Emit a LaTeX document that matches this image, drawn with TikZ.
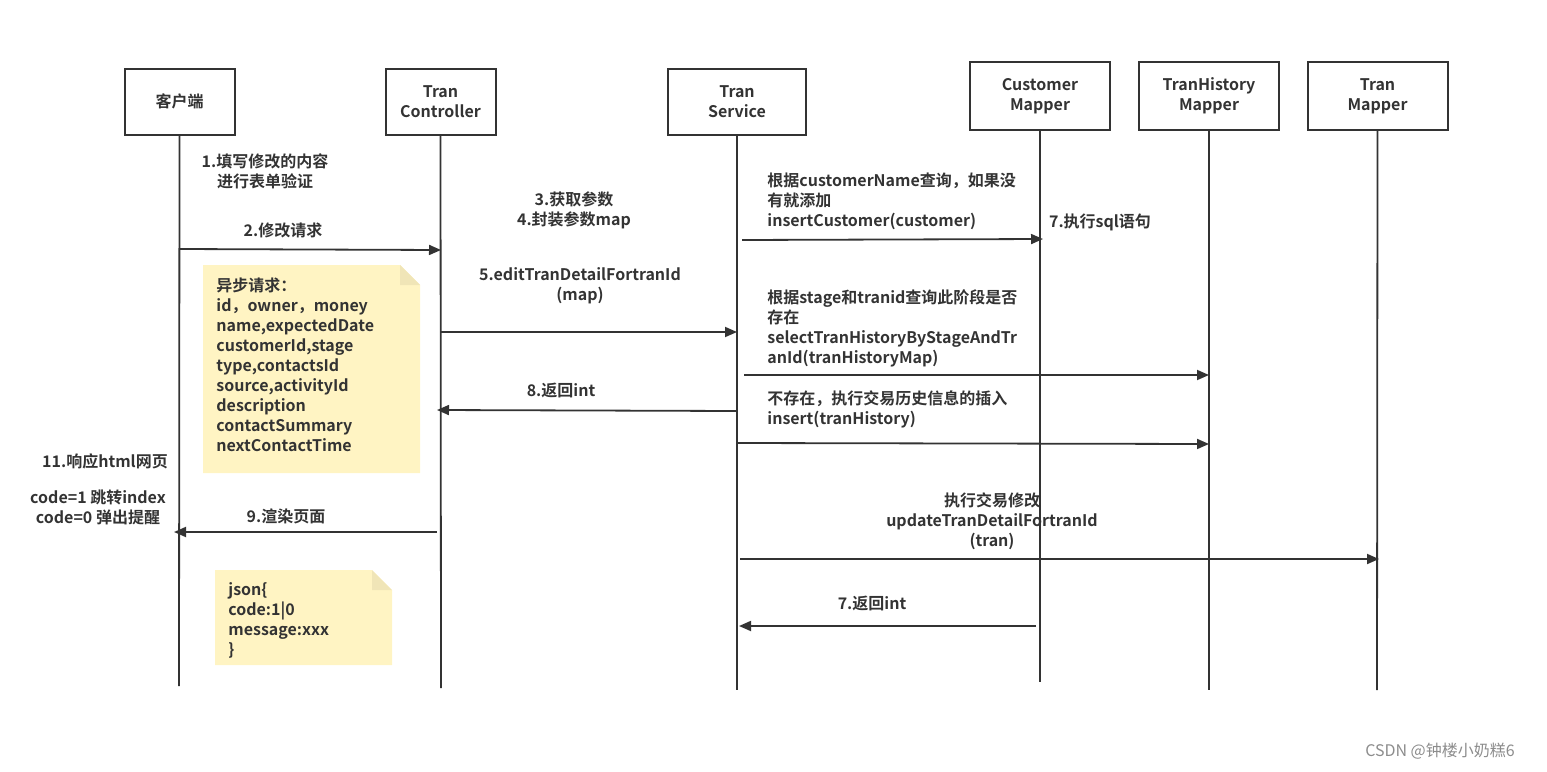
\documentclass[tikz,border=0pt]{standalone}
\usepackage{fontspec}
\setmainfont{Noto Sans CJK SC}[BoldFont={* Bold}]
\usetikzlibrary{arrows.meta}
\definecolor{ln}{HTML}{333333}
\definecolor{nt}{HTML}{FFF4C3}
\begin{document}
\begin{tikzpicture}[x=0.5pt,y=-0.5pt,
  every node/.style={font=\fontsize{8}{10}\selectfont\bfseries,text=ln},
  actor/.style={draw=ln,line width=1pt,minimum width=55pt,minimum height=33pt,align=center,inner sep=0pt},
  life/.style={draw=ln,line width=0.9pt},
  msg/.style={draw=ln,line width=0.9pt,-{Triangle[length=6pt,width=5pt]}},
  lbl/.style={align=center,inner sep=0pt},
  lbll/.style={align=left,anchor=west,inner sep=0pt}]
\useasboundingbox (0,0) rectangle (1547,771);
% actors
\node[actor] (a1) at (179.5,101.5) {客户端};
\node[actor] (a2) at (440.5,101.5) {Tran\\Controller};
\node[actor,minimum width=69pt] (a3) at (737,101.5) {Tran\\Service};
\node[actor,minimum width=70pt,minimum height=34pt] (a4) at (1040,96) {Customer\\Mapper};
\node[actor,minimum width=70pt,minimum height=34pt] (a5) at (1209,96) {TranHistory\\Mapper};
\node[actor,minimum width=70pt,minimum height=34pt] (a6) at (1377.5,96) {Tran\\Mapper};
\coordinate (e1) at (179,686); \coordinate (e2) at (441,688);
\coordinate (e3) at (737,690); \coordinate (e4) at (1040,682);
\coordinate (e5) at (1209,690); \coordinate (e6) at (1377,690);
\foreach \i in {1,...,6}{\draw[life] (a\i.south) -- (e\i);}
% notes
\fill[nt] (203,265) -- (400,265) -- (420,285) -- (420,473) -- (203,473) -- cycle;
\fill[nt!70!black!20!nt] (400,265) -- (400,285) -- (420,285) -- cycle;
\fill[nt] (215,570) -- (372,570) -- (392,590) -- (392,665) -- (215,665) -- cycle;
\fill[nt!70!black!20!nt] (372,570) -- (372,590) -- (392,590) -- cycle;
\node[lbll,align=left,anchor=north west] (n1) at (216,277) {异步请求：\\id，owner，money\\name,expectedDate\\customerId,stage\\type,contactsId\\source,activityId\\description\\contactSummary\\nextContactTime};
\node[lbll,anchor=north west] (n2) at (228,582) {json\{\\code:1|0\\message:xxx\\\}};
% messages
\coordinate (m2a) at (179,249); \coordinate (m2b) at (441,250);
\draw[msg] (m2a) -- (m2b);
\node[lbl] (l1) at (265,171) {1.填写修改的内容\\进行表单验证};
\node[lbl] (l2) at (283,230) {2.修改请求};
\node[lbl] (l3) at (574,210) {3.获取参数\\4.封装参数map};
\coordinate (m5a) at (441,332); \coordinate (m5b) at (737,332);
\draw[msg] (m5a) -- (m5b);
\node[lbl] (l5) at (580,286) {5.editTranDetailFortranId\\(map)};
\coordinate (m8a) at (737,411); \coordinate (m8b) at (437,410);
\draw[msg] (m8a) -- (m8b);
\node[lbl] (l8) at (561,390) {8.返回int};
\coordinate (m9a) at (437,532); \coordinate (m9b) at (174,532);
\draw[msg] (m9a) -- (m9b);
\node[lbl] (l9) at (286,516) {9.渲染页面};
\node[lbl] (l11) at (105,461) {11.响应html网页};
\node[lbl] (lc) at (98,507) {code=1 跳转index\\code=0 弹出提醒};
\coordinate (mca) at (742,240); \coordinate (mcb) at (1043,239);
\draw[msg] (mca) -- (mcb);
\node[lbll,anchor=north west] (lcu) at (767,172) {根据customerName查询，如果没\\有就添加\\insertCustomer(customer)};
\node[lbl] (l7) at (1100,222) {7.执行sql语句};
\coordinate (mha) at (744,375); \coordinate (mhb) at (1209,375);
\draw[msg] (mha) -- (mhb);
\node[lbll,anchor=north west] (lh) at (767,289) {根据stage和tranid查询此阶段是否\\存在\\selectTranHistoryByStageAndTr\\anId(tranHistoryMap)};
\coordinate (mia) at (737,443); \coordinate (mib) at (1209,444);
\draw[msg] (mia) -- (mib);
\node[lbll,anchor=north west] (li) at (767,390) {不存在，执行交易历史信息的插入\\insert(tranHistory)};
\coordinate (mta) at (740,559); \coordinate (mtb) at (1379,559);
\draw[msg] (mta) -- (mtb);
\node[lbl] (lt) at (992,521) {执行交易修改\\updateTranDetailFortranId\\(tran)};
\coordinate (mra) at (1036,626); \coordinate (mrb) at (739,626);
\draw[msg] (mra) -- (mrb);
\node[lbl] (lr) at (872,603) {7.返回int};
\node[font=\fontsize{8}{10}\selectfont,text=black!45,inner sep=0pt] (wm) at (1440,751) {CSDN @钟楼小奶糕6};
\end{tikzpicture}
\end{document}
